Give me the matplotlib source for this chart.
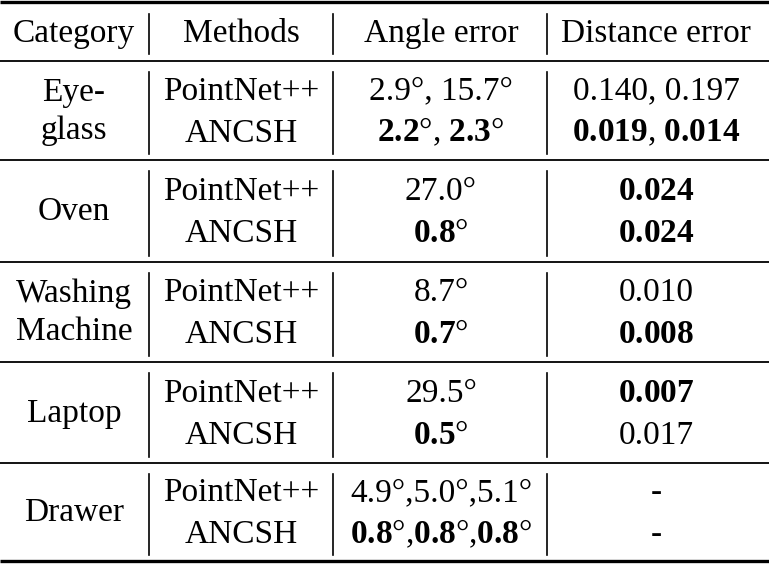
import matplotlib
matplotlib.use("Agg")
import matplotlib.pyplot as plt

plt.rcParams['font.family'] = ['Liberation Serif', 'DejaVu Serif']
plt.rcParams['mathtext.fontset'] = 'custom'
plt.rcParams['mathtext.rm'] = 'Liberation Serif'
plt.rcParams['mathtext.bf'] = 'Liberation Serif:bold'

headers = ["Category", "Methods", "Angle error", "Distance error"]
categories = ["Eye-\nglass", "Oven", "Washing\nMachine", "Laptop", "Drawer"]
methods = ["PointNet++", "ANCSH"]
angle = [["2.9°, 15.7°", r"$\mathbf{2.2}$°, $\mathbf{2.3}$°"],
         ["27.0°", r"$\mathbf{0.8}$°"],
         ["8.7°", r"$\mathbf{0.7}$°"],
         ["29.5°", r"$\mathbf{0.5}$°"],
         ["4.9°,5.0°,5.1°", r"$\mathbf{0.8}$°,$\mathbf{0.8}$°,$\mathbf{0.8}$°"]]
dist = [["0.140, 0.197", r"$\mathbf{0.019}$, $\mathbf{0.014}$"],
        [r"$\mathbf{0.024}$", r"$\mathbf{0.024}$"],
        ["0.010", r"$\mathbf{0.008}$"],
        [r"$\mathbf{0.007}$", "0.017"],
        ["-", "-"]]

W, H = 769, 565
fig = plt.figure(figsize=(W/100, H/100), dpi=100)
ax = fig.add_axes([0, 0, 1, 1])
ax.set_xlim(0, W); ax.set_ylim(H, 0); ax.axis('off')

hlines = [2, 61, 160, 262, 362, 463, 561]
vx = [149, 333, 547]
cx = [74, 241, 441, 656]
fs = 24
off = 10

for i, y in enumerate(hlines):
    ax.plot([0, W], [y, y], color='black', lw=2.4 if i in (0, len(hlines)-1) else 1.3, solid_capstyle='butt')

for x, h in zip(cx, headers):
    ax.text(x, 32 + off, h, ha='center', va='baseline', fontsize=fs)
for x in vx:
    ax.plot([x, x], [14, 54], color='black', lw=1.2)

for g in range(len(categories)):
    t, b = hlines[g+1], hlines[g+2]
    mid = (t + b) / 2
    ys = [mid - 21, mid + 21]
    ax.text(cx[0], mid + 1, categories[g], ha='center', va='center', fontsize=fs, linespacing=1.3)
    for r in range(2):
        ax.text(cx[1], ys[r] + off, methods[r], ha='center', va='baseline', fontsize=fs)
        ax.text(cx[2], ys[r] + off, angle[g][r], ha='center', va='baseline', fontsize=fs)
        ax.text(cx[3], ys[r] + off, dist[g][r], ha='center', va='baseline', fontsize=fs)
    for x in vx:
        ax.plot([x, x], [t + 11, b - 6], color='black', lw=1.2)

fig.savefig("out.png", dpi=100)
